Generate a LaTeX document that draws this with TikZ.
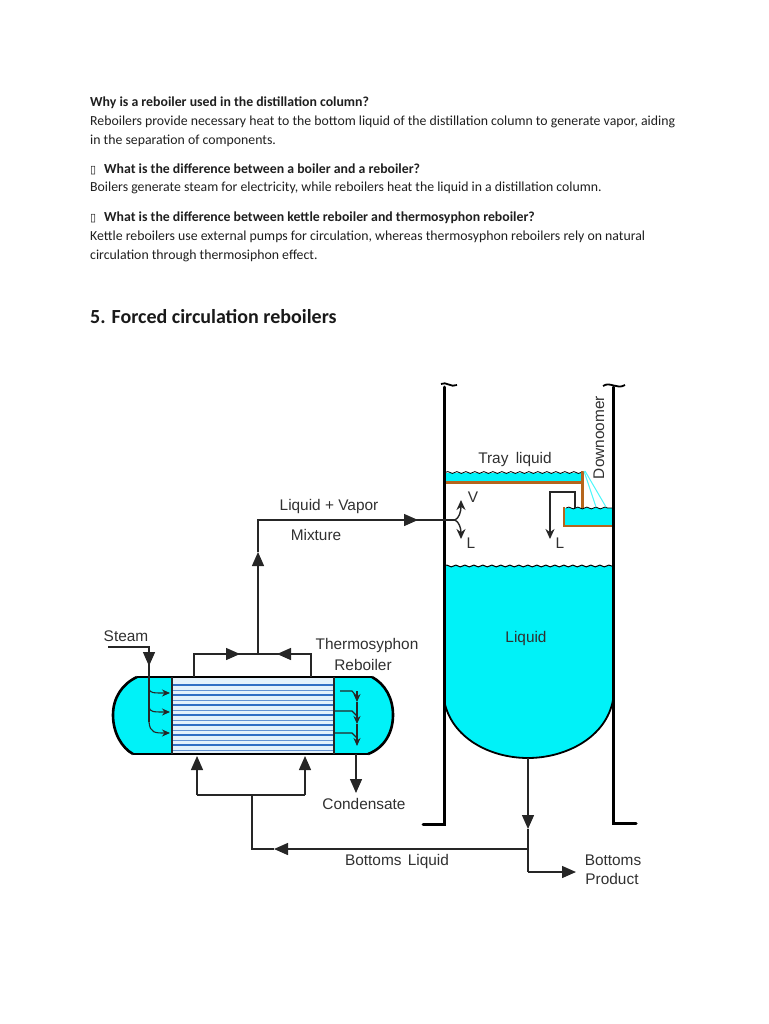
\documentclass[tikz,border=0pt]{standalone}
\usepackage{fontspec}
\setmainfont{Carlito}
\newfontfamily\dfont{Liberation Sans}
\newfontfamily\tofu{DejaVu Sans}
\usetikzlibrary{arrows.meta,decorations.pathmorphing,calc}
\definecolor{liq}{HTML}{00F2F8}
\definecolor{tray}{HTML}{B5651D}
\definecolor{tube}{HTML}{2F6FC4}
\definecolor{tubebg}{HTML}{E2F1FB}
\definecolor{dtext}{HTML}{303030}
\tikzset{
  para/.style={anchor=base west,inner sep=0pt,font=\fontsize{13.8}{15}\selectfont,text=black!88},
  parab/.style={para,font=\fontsize{13.8}{15}\selectfont\bfseries},
  head/.style={anchor=base west,inner sep=0pt,font=\fontsize{20}{22}\selectfont\bfseries,text=black!90},
  lab/.style={inner sep=0pt,text=dtext,font=\dfont\fontsize{15.4}{17}\selectfont},
  wall/.style={draw=black,line width=3pt,line cap=round},
  pipe/.style={draw=black!85,line width=1.4pt},
  big/.style={pipe,-{Triangle[length=14pt,width=12pt]}},
  small/.style={draw=black!85,line width=1.1pt,-{Stealth[length=8pt,width=7pt]}},
  mid/.style={draw=black!85,line width=1.4pt,-{Stealth[length=10pt,width=9pt]}},
  wave/.style={decorate,decoration={snake,amplitude=0.9pt,segment length=9pt}},
  shell/.style={draw=black,line width=2.6pt},
}
\begin{document}
\begin{tikzpicture}[x=1pt,y=-1pt]
\useasboundingbox (0,0) rectangle (768,1024);
% document text
\node[parab] (t1) at (90,106.7) {Why is a reboiler used in the distillation column?};
\node[para] (t2) at (90,125.7) {Reboilers provide necessary heat to the bottom liquid of the distillation column to generate vapor, aiding};
\node[para] (t3) at (90,144.4) {in the separation of components.};
\node[para] (b1) at (90,173.7) {\tofu\fontsize{11}{13}\selectfont ▯};
\node[parab] (t4) at (104,173.7) {What is the difference between a boiler and a reboiler?};
\node[para] (t5) at (90,191.7) {Boilers generate steam for electricity, while reboilers heat the liquid in a distillation column.};
\node[para] (b2) at (90,221.7) {\tofu\fontsize{11}{13}\selectfont ▯};
\node[parab] (t6) at (104,221.7) {What is the difference between kettle reboiler and thermosyphon reboiler?};
\node[para] (t7) at (90,240.7) {Kettle reboilers use external pumps for circulation, whereas thermosyphon reboilers rely on natural};
\node[para] (t8) at (90,259) {circulation through thermosiphon effect.};
\node[head] (t9) at (90,323) {5. Forced circulation reboilers};

% coordinates
\coordinate (mixbase) at (258,654);
\coordinate (mixtip) at (258,552);
\coordinate (mixcorner) at (258,520);
\coordinate (mixhead) at (418,520);
\coordinate (split) at (455,520);
\coordinate (upL) at (194,677);
\coordinate (upLc) at (194,654);
\coordinate (upLt) at (240,654);
\coordinate (upR) at (311,677);
\coordinate (upRc) at (311,654);
\coordinate (upRt) at (277,654);
\coordinate (drum) at (528,758);
\coordinate (drumtip) at (528,829);
\coordinate (tee) at (528,849);
\coordinate (prodc) at (528,872);
\coordinate (prodt) at (576,872);
\coordinate (blt) at (274,849);
\coordinate (blc) at (252,849);
\coordinate (blj) at (252,795);
\coordinate (inL) at (197,795);
\coordinate (inLt) at (197,756);
\coordinate (inR) at (305,795);
\coordinate (inRt) at (305,756);
\coordinate (st0) at (108,647);
\coordinate (stc) at (149,647);
\coordinate (stt) at (149,666);
\coordinate (stm) at (149,677);
\coordinate (cond0) at (356,754);
\coordinate (condt) at (356,793);

% drum liquid
\fill[liq] (444,566) -- (613,566) -- (613,700) .. controls (606,738) and (565,758) .. (528,758)
  .. controls (490,758) and (451,738) .. (444,700) -- cycle;
\draw[draw=black,line width=1.8pt] (444,700) .. controls (451,738) and (490,758) .. (528,758)
  .. controls (565,758) and (606,738) .. (613,700);
\draw[draw=black,line width=1pt,wave] (444,566) -- (613,566);

% tray
\fill[liq] (445,473) rectangle (582,481);
\draw[draw=black,line width=.8pt,wave] (445,472.5) -- (582,472.5);
\draw[draw=tray,line width=3pt] (444,482) -- (583,482);
\draw[draw=tray,line width=3pt] (582,471) -- (582,508);
\fill[liq] (564,508) rectangle (613,526);
\draw[draw=black,line width=.8pt,wave] (566,508) -- (612,508);
\draw[draw=tray,line width=2.6pt] (564,507) -- (564,526) -- (613,526);
\draw[draw=liq!70,line width=1pt] (584,471) -- (596,507);
\draw[draw=liq!70,line width=1pt] (585,471) -- (606,507);

% walls
\draw[wall] (444,387) -- (444,824) -- (423,824);
\draw[wall] (613,387) -- (613,823) -- (636,823);
\draw[draw=black,line width=1.8pt] (441,384) .. controls (446,381) and (451,388) .. (457,385);
\draw[draw=black,line width=1.8pt] (603,386) .. controls (610,381) and (617,390) .. (625,385);

% downcomer overflow
\draw[mid] (575,508) -- (575,492) -- (550,492) -- (550,539);

% reboiler heads
\fill[liq] (137,677) .. controls (122,684) and (113,698) .. (113,715) .. controls (113,733) and (122,748) .. (133,754)
  -- (172,754) -- (172,677) -- cycle;
\fill[liq] (334,677) -- (372,677) .. controls (385,684) and (393,698) .. (393,715) .. controls (393,733) and (384,748) .. (368,754)
  -- (334,754) -- cycle;
\fill[tubebg] (172,677) rectangle (334,754);
\foreach \yy in {685,695,...,745} {\draw[draw=tube,line width=1.2pt] (172,\yy) -- (334,\yy);}
\foreach \yy in {690,700,...,750} {\draw[draw=tube!75,line width=.9pt] (172,\yy) -- (334,\yy);}
\draw[shell] (137,677) -- (372,677);
\draw[shell] (133,754) -- (368,754);
\draw[shell] (137,677) .. controls (122,684) and (113,698) .. (113,715) .. controls (113,733) and (122,748) .. (133,754);
\draw[shell] (372,677) .. controls (385,684) and (393,698) .. (393,715) .. controls (393,733) and (384,748) .. (368,754);
\draw[draw=black!85,line width=1.8pt] (172,677) -- (172,754);
\draw[draw=black!85,line width=1.8pt] (334,677) -- (334,754);

% reboiler internal arrows
\draw[draw=black!85,line width=1.1pt] (stm) -- (149,722);
\draw[small] (149,689) .. controls (150,693) and (153,693) .. (170,693);
\draw[small] (149,707) .. controls (150,712) and (153,712) .. (170,712);
\draw[small] (149,722) .. controls (150,733) and (155,733) .. (170,733);
\draw[draw=black!85,line width=1.1pt] (340,691) -- (352,691) -- (357,697);
\draw[draw=black!85,line width=1.1pt] (335,711) -- (352,711) -- (357,716);
\draw[draw=black!85,line width=1.1pt] (335,733) -- (352,733) -- (357,738);
\draw[small] (357,691) -- (357,702);
\draw[small] (357,702) -- (357,724);
\draw[small] (357,724) -- (357,746);

% piping
\draw[pipe] (upL) -- (upLc) -- (mixbase);
\draw[big] (upLc) -- (upLt);
\draw[pipe] (upR) -- (upRc) -- (mixbase);
\draw[big] (upRc) -- (upRt);
\draw[big] (mixbase) -- (mixtip);
\draw[pipe] (mixtip) -- (mixcorner) -- (mixhead);
\draw[big] (mixcorner) -- (mixhead);
\draw[pipe] (mixhead) -- (split);
\draw[mid] (split) .. controls (459,518) and (461,512) .. (461,500);
\draw[mid] (split) .. controls (459,522) and (461,528) .. (461,539);
\draw[big] (drum) -- (drumtip);
\draw[pipe] (drumtip) -- (tee) -- (prodc);
\draw[big] (prodc) -- (prodt);
\draw[big] (tee) -- (blt);
\draw[pipe] (blt) -- (blc) -- (blj);
\draw[pipe] (inL) -- (inR);
\draw[big] (inL) -- (inLt);
\draw[big] (inR) -- (inRt);
\draw[pipe] (st0) -- (stc) -- (stm);
\draw[big] (stc) -- (stt);
\draw[big] (cond0) -- (condt);

% labels
\node[lab] (lv) at (329,506.5) {Liquid + Vapor};
\node[lab] (mx) at (316,534.5) {Mixture};
\node[lab] (tl) at (515,460) {Tray\hspace{3pt} liquid};
\node[lab,rotate=90] (dc) at (599,437.5) {Downoomer};
\node[lab] (vv) at (473,497) {V};
\node[lab] (ll) at (471,543) {L};
\node[lab] (l2) at (560,543) {L};
\node[lab] (lq) at (526,638.5) {Liquid};
\node[lab] (st) at (126,636) {Steam};
\node[lab] (th) at (367,646) {Thermosyphon};
\node[lab] (rb) at (363,665) {Reboiler};
\node[lab] (cd) at (364,804) {Condensate};
\node[lab] (bl) at (397,862) {Bottoms\hspace{2pt} Liquid};
\node[lab] (bp) at (613,860) {Bottoms};
\node[lab] (pr) at (612,879) {Product};
\end{tikzpicture}
\end{document}
